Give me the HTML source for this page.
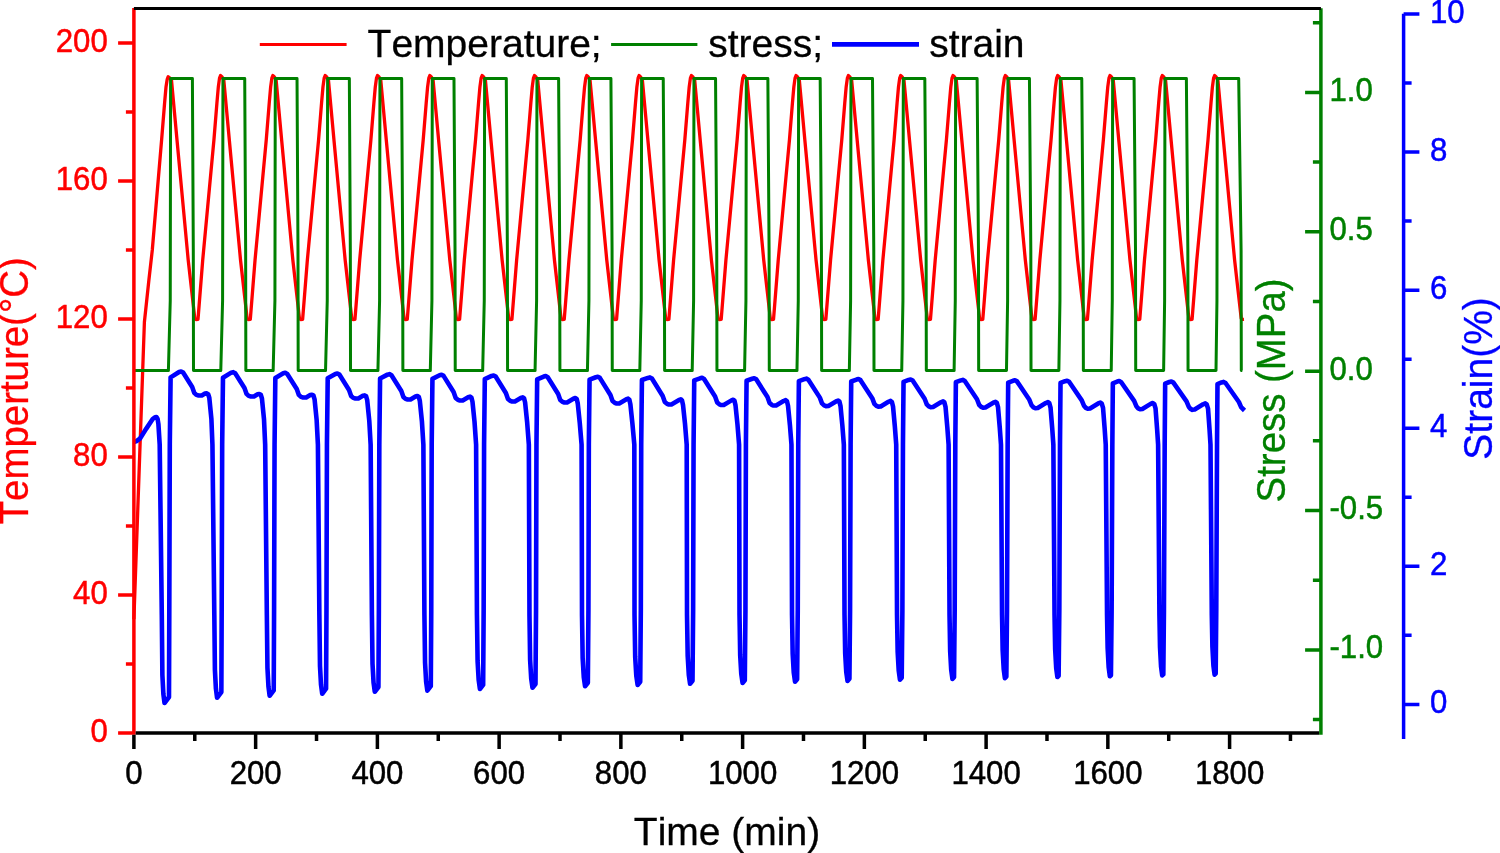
<!DOCTYPE html>
<html lang="en">
<head>
<meta charset="utf-8">
<title>Temperature, stress and strain versus time</title>
<style>
html,body{margin:0;padding:0;background:#ffffff;}
body{width:1500px;height:853px;overflow:hidden;}
svg{display:block;}
</style>
</head>
<body>
<svg width="1500" height="853" viewBox="0 0 1500 853" role="img" aria-label="Temperature, stress and strain versus time">
<rect x="0" y="0" width="1500" height="853" fill="#ffffff"/>
<g fill="none" stroke-linejoin="round" stroke-linecap="butt">
<polyline stroke="#ff0000" stroke-width="3.3" points="133.9,619.22 144.4,322 148.9,280 152.3,250 161.6,140 164.6,103 166,87 167.2,79.3 168.2,76.7 169.8,78.1 171.5,80.2 177,140 188.2,260 194.8,318.4 196,319.5 198,319.3 202.72,260 213.92,140 216.92,103 218.32,87 219.52,78.1 220.52,75.5 222.12,76.9 223.82,80.2 229.32,140 240.52,260 247.12,318.4 248.32,319.5 250.32,319.3 255.04,260 266.24,140 269.24,103 270.64,87 271.84,78.1 272.84,75.5 274.44,76.9 276.14,80.2 281.64,140 292.84,260 299.44,318.4 300.64,319.5 302.64,319.3 307.36,260 318.56,140 321.56,103 322.96,87 324.16,78.1 325.16,75.5 326.76,76.9 328.46,80.2 333.96,140 345.16,260 351.76,318.4 352.96,319.5 354.96,319.3 359.68,260 370.88,140 373.88,103 375.28,87 376.48,78.1 377.48,75.5 379.08,76.9 380.78,80.2 386.28,140 397.48,260 404.08,318.4 405.28,319.5 407.28,319.3 412,260 423.2,140 426.2,103 427.6,87 428.8,78.1 429.8,75.5 431.4,76.9 433.1,80.2 438.6,140 449.8,260 456.4,318.4 457.6,319.5 459.6,319.3 464.32,260 475.52,140 478.52,103 479.92,87 481.12,78.1 482.12,75.5 483.72,76.9 485.42,80.2 490.92,140 502.12,260 508.72,318.4 509.92,319.5 511.92,319.3 516.64,260 527.84,140 530.84,103 532.24,87 533.44,78.1 534.44,75.5 536.04,76.9 537.74,80.2 543.24,140 554.44,260 561.04,318.4 562.24,319.5 564.24,319.3 568.96,260 580.16,140 583.16,103 584.56,87 585.76,78.1 586.76,75.5 588.36,76.9 590.06,80.2 595.56,140 606.76,260 613.36,318.4 614.56,319.5 616.56,319.3 621.28,260 632.48,140 635.48,103 636.88,87 638.08,78.1 639.08,75.5 640.68,76.9 642.38,80.2 647.88,140 659.08,260 665.68,318.4 666.88,319.5 668.88,319.3 673.6,260 684.8,140 687.8,103 689.2,87 690.4,78.1 691.4,75.5 693,76.9 694.7,80.2 700.2,140 711.4,260 718,318.4 719.2,319.5 721.2,319.3 725.92,260 737.12,140 740.12,103 741.52,87 742.72,78.1 743.72,75.5 745.32,76.9 747.02,80.2 752.52,140 763.72,260 770.32,318.4 771.52,319.5 773.52,319.3 778.24,260 789.44,140 792.44,103 793.84,87 795.04,78.1 796.04,75.5 797.64,76.9 799.34,80.2 804.84,140 816.04,260 822.64,318.4 823.84,319.5 825.84,319.3 830.56,260 841.76,140 844.76,103 846.16,87 847.36,78.1 848.36,75.5 849.96,76.9 851.66,80.2 857.16,140 868.36,260 874.96,318.4 876.16,319.5 878.16,319.3 882.88,260 894.08,140 897.08,103 898.48,87 899.68,78.1 900.68,75.5 902.28,76.9 903.98,80.2 909.48,140 920.68,260 927.28,318.4 928.48,319.5 930.48,319.3 935.2,260 946.4,140 949.4,103 950.8,87 952,78.1 953,75.5 954.6,76.9 956.3,80.2 961.8,140 973,260 979.6,318.4 980.8,319.5 982.8,319.3 987.52,260 998.72,140 1001.72,103 1003.12,87 1004.32,78.1 1005.32,75.5 1006.92,76.9 1008.62,80.2 1014.12,140 1025.32,260 1031.92,318.4 1033.12,319.5 1035.12,319.3 1039.84,260 1051.04,140 1054.04,103 1055.44,87 1056.64,78.1 1057.64,75.5 1059.24,76.9 1060.94,80.2 1066.44,140 1077.64,260 1084.24,318.4 1085.44,319.5 1087.44,319.3 1092.16,260 1103.36,140 1106.36,103 1107.76,87 1108.96,78.1 1109.96,75.5 1111.56,76.9 1113.26,80.2 1118.76,140 1129.96,260 1136.56,318.4 1137.76,319.5 1139.76,319.3 1144.48,260 1155.68,140 1158.68,103 1160.08,87 1161.28,78.1 1162.28,75.5 1163.88,76.9 1165.58,80.2 1171.08,140 1182.28,260 1188.88,318.4 1190.08,319.5 1192.08,319.3 1196.8,260 1208,140 1211,103 1212.4,87 1213.6,78.1 1214.6,75.5 1216.2,76.9 1217.9,80.2 1223.4,140 1234.6,260 1241.2,318.4 1242.4,319.4 1244,319.3"/>
<polyline stroke="#008000" stroke-width="3" points="133.9,370.6 168.4,370.6 170.25,300.6 170.6,78.6 192.4,78.6 193.3,250.6 193.5,370.6 220.78,370.6 222.59,300.6 222.94,78.6 244.72,78.6 245.65,250.6 245.84,370.6 273.16,370.6 274.92,300.6 275.27,78.6 297.03,78.6 297.99,250.6 298.19,370.6 325.54,370.6 327.25,300.6 327.61,78.6 349.35,78.6 350.33,250.6 350.53,370.6 377.92,370.6 379.59,300.6 379.94,78.6 401.66,78.6 402.68,250.6 402.88,370.6 430.3,370.6 431.92,300.6 432.27,78.6 453.98,78.6 455.03,250.6 455.23,370.6 482.68,370.6 484.26,300.6 484.61,78.6 506.29,78.6 507.37,250.6 507.57,370.6 535.06,370.6 536.6,300.6 536.95,78.6 558.61,78.6 559.71,250.6 559.91,370.6 587.44,370.6 588.93,300.6 589.28,78.6 610.92,78.6 612.06,250.6 612.26,370.6 639.82,370.6 641.26,300.6 641.62,78.6 663.24,78.6 664.4,250.6 664.61,370.6 692.2,370.6 693.6,300.6 693.95,78.6 715.55,78.6 716.75,250.6 716.95,370.6 744.58,370.6 745.94,300.6 746.29,78.6 767.86,78.6 769.09,250.6 769.29,370.6 796.96,370.6 798.27,300.6 798.62,78.6 820.18,78.6 821.44,250.6 821.64,370.6 849.34,370.6 850.61,300.6 850.96,78.6 872.5,78.6 873.78,250.6 873.99,370.6 901.72,370.6 902.94,300.6 903.29,78.6 924.81,78.6 926.13,250.6 926.33,370.6 954.1,370.6 955.27,300.6 955.62,78.6 977.12,78.6 978.47,250.6 978.67,370.6 1006.48,370.6 1007.61,300.6 1007.96,78.6 1029.44,78.6 1030.82,250.6 1031.02,370.6 1058.86,370.6 1059.95,300.6 1060.3,78.6 1081.76,78.6 1083.16,250.6 1083.37,370.6 1111.24,370.6 1112.28,300.6 1112.63,78.6 1134.07,78.6 1135.51,250.6 1135.71,370.6 1163.62,370.6 1164.62,300.6 1164.96,78.6 1186.38,78.6 1187.85,250.6 1188.05,370.6 1216,370.6 1216.95,300.6 1217.3,78.6 1238.7,78.6 1241.1,250.6 1241.3,370.6 1242.3,370.6"/>
<polyline stroke="#0000ff" stroke-width="4.6" points="133.9,442.2 136.5,441.2 139.9,438.7 146.3,428.6 152.7,419 155,417.2 156.4,417 157.6,419 158.4,424 159.7,444.6 161.8,615 162.38,675 163.37,694 164.5,703 169,697 169.3,610 169.8,444.6 170.6,377.4 179.1,372 181.1,371.5 183.1,372.6 192.2,387 194.3,392.9 196.4,394.9 198.6,395.5 201.8,395.5 205,393.6 206.6,393.4 208.2,394.2 209.3,397.7 211.4,419 212.44,444.6 214.32,615 214.91,669.8 215.92,688.8 217.07,697.8 221.36,692.11 221.69,610 222.18,444.6 222.97,377.69 231.19,372.66 233.19,372.16 235.19,373.26 244.48,388 246.58,393.91 248.69,395.89 250.86,396.5 253.98,396.49 257.62,394.33 259.29,394.06 260.85,394.89 261.94,398.51 264.02,419.56 265.17,444.6 266.85,615 267.45,667.8 268.47,686.8 269.64,695.8 273.72,690.42 274.08,610 274.56,444.6 275.34,377.98 283.28,373.31 285.28,372.81 287.28,373.91 296.76,389 298.86,394.92 300.98,396.88 303.12,397.5 306.16,397.48 310.25,395.07 311.98,394.71 313.49,395.58 314.57,399.32 316.65,420.11 317.91,444.6 319.37,615 319.98,665.8 321.02,684.8 322.21,693.8 326.07,688.73 326.47,610 326.94,444.6 327.71,378.27 335.37,373.97 337.37,373.47 339.37,374.57 349.04,390 351.14,395.93 353.27,397.87 355.37,398.5 358.34,398.47 362.87,395.8 364.67,395.37 366.14,396.27 367.21,400.13 369.27,420.67 370.64,444.6 371.9,615 372.52,663.8 373.57,682.8 374.78,691.8 378.43,687.04 378.86,610 379.32,444.6 380.08,378.56 387.46,374.62 389.46,374.12 391.46,375.22 401.32,391 403.42,396.94 405.56,398.86 407.63,399.5 410.52,399.46 415.5,396.53 417.36,396.02 418.79,396.96 419.84,400.94 421.9,421.22 423.38,444.6 424.42,615 425.05,662.6 426.12,681.6 427.34,690.6 430.79,686.16 431.26,610 431.7,444.6 432.44,378.84 439.56,375.28 441.56,374.78 443.56,375.88 453.6,392 455.7,397.96 457.86,399.84 459.89,400.5 462.7,400.44 468.12,397.27 470.06,396.68 471.43,397.64 472.48,401.76 474.52,421.78 476.11,444.6 476.95,615 477.59,661 478.67,680 479.91,689 483.15,684.87 483.65,610 484.08,444.6 484.81,379.13 491.65,375.93 493.65,375.43 495.65,376.53 505.88,393 507.98,398.97 510.15,400.83 512.15,401.5 514.88,401.43 520.75,398 522.75,397.33 524.08,398.33 525.11,402.57 527.15,422.33 528.85,444.6 529.47,615 530.12,659.8 531.22,678.8 532.48,687.8 535.5,683.98 536.04,610 536.46,444.6 537.18,379.42 543.74,376.59 545.74,376.09 547.74,377.19 558.16,394 560.26,399.98 562.44,401.82 564.4,402.5 567.06,402.42 573.37,398.73 575.44,397.99 576.73,399.02 577.75,403.38 579.77,422.89 581.58,444.6 582,615 582.66,658.2 583.77,677.2 585.05,686.2 587.86,682.69 588.43,610 588.84,444.6 589.55,379.71 595.83,377.24 597.83,376.74 599.83,377.84 610.44,395 612.54,400.99 614.73,402.81 616.66,403.5 619.24,403.41 626,399.47 628.13,398.64 629.37,399.71 630.38,404.19 632.4,423.44 634.32,444.6 634.52,615 635.2,657 636.32,676 637.62,685 640.22,681.8 640.82,610 641.22,444.6 641.92,380 647.92,377.9 649.92,377.4 651.92,378.5 662.72,396 664.82,402 667.02,403.8 668.92,404.5 671.42,404.4 678.62,400.2 680.82,399.3 682.02,400.4 683.02,405 685.02,424 686.7,444.6 687.02,615 687.69,655.8 688.8,674.8 690.09,683.8 692.52,680.84 693.13,610 693.57,444.6 694.24,380.37 700.07,378.31 702.07,377.81 704.07,378.91 715.1,396.54 717.21,402.47 719.38,404.31 721.27,405.03 723.74,404.91 731.07,400.61 733.27,399.71 734.49,400.8 735.52,405.37 737.48,424.63 739.08,444.6 739.52,615 740.18,655 741.28,674 742.56,683 744.82,680.29 745.45,610 745.91,444.6 746.57,380.73 752.21,378.72 754.21,378.22 756.21,379.32 767.48,397.09 769.6,402.93 771.74,404.82 773.61,405.57 776.07,405.42 783.51,401.02 785.71,400.12 786.96,401.2 788.02,405.73 789.94,425.27 791.46,444.6 792.03,615 792.68,653.8 793.77,672.8 795.03,681.8 797.13,679.33 797.76,610 798.26,444.6 798.89,381.1 804.36,379.13 806.36,378.63 808.36,379.73 819.86,397.63 821.99,403.4 824.09,405.33 825.96,406.1 828.39,405.93 835.96,401.43 838.16,400.53 839.43,401.6 840.53,406.1 842.39,425.9 843.84,444.6 844.53,615 845.17,653 846.25,672 847.5,681 849.43,678.78 850.07,610 850.61,444.6 851.22,381.47 856.51,379.54 858.51,379.04 860.51,380.14 872.24,398.18 874.38,403.87 876.45,405.84 878.31,406.63 880.72,406.44 888.41,401.84 890.61,400.94 891.9,402 893.03,406.47 894.85,426.53 896.22,444.6 897.03,615 897.66,651.8 898.73,670.8 899.96,679.8 901.73,677.82 902.39,610 902.95,444.6 903.54,381.83 908.65,379.96 910.65,379.46 912.65,380.56 924.62,398.72 926.78,404.33 928.81,406.36 930.65,407.17 933.04,406.96 940.85,402.26 943.05,401.36 944.36,402.4 945.53,406.83 947.31,427.17 948.6,444.6 949.53,615 950.16,651 951.22,670 952.43,679 954.03,677.27 954.7,610 955.3,444.6 955.87,382.2 960.8,380.37 962.8,379.87 964.8,380.97 977,399.27 979.17,404.8 981.17,406.87 983,407.7 985.37,407.47 993.3,402.67 995.5,401.77 996.83,402.8 998.03,407.2 999.77,427.8 1000.98,444.6 1002.04,615 1002.65,650.2 1003.7,669.2 1004.9,678.2 1006.34,676.71 1007.01,610 1007.65,444.6 1008.19,382.57 1012.95,380.78 1014.95,380.28 1016.95,381.38 1029.38,399.81 1031.56,405.27 1033.52,407.38 1035.35,408.23 1037.69,407.98 1045.75,403.08 1047.95,402.18 1049.3,403.2 1050.54,407.57 1052.22,428.43 1053.36,444.6 1054.54,615 1055.15,649 1056.18,668 1057.37,677 1058.64,675.76 1059.33,610 1059.99,444.6 1060.52,382.93 1065.09,381.19 1067.09,380.69 1069.09,381.79 1081.76,400.36 1083.95,405.73 1085.88,407.89 1087.69,408.77 1090.02,408.49 1098.19,403.49 1100.39,402.59 1101.77,403.6 1103.04,407.93 1104.68,429.07 1105.74,444.6 1107.04,615 1107.64,648.2 1108.66,667.2 1109.84,676.2 1110.94,675.2 1111.64,610 1112.34,444.6 1112.84,383.3 1117.24,381.6 1119.24,381.1 1121.24,382.2 1134.14,400.9 1136.34,406.2 1138.24,408.4 1140.04,409.3 1142.34,409 1150.64,403.9 1152.84,403 1154.24,404 1155.54,408.3 1157.14,429.7 1158.12,444.6 1159.42,615 1160.02,647.4 1161.04,666.4 1162.22,675.4 1163.32,674.4 1163.95,610 1164.69,444.6 1165.16,383.67 1169.39,382.01 1171.39,381.51 1173.39,382.61 1186.52,401.44 1188.73,406.67 1190.6,408.91 1192.39,409.83 1194.66,409.51 1203.09,404.31 1205.29,403.41 1206.71,404.4 1208.04,408.67 1209.6,430.33 1210.5,444.6 1211.8,615 1212.4,646.6 1213.42,665.6 1214.6,674.6 1215.7,673.6 1216.27,610 1217.03,444.6 1217.49,384.03 1221.53,382.42 1223.53,381.92 1225.53,383.02 1238.9,401.99 1241.12,407.13 1244.5,410.5"/>
</g>
<g fill="none" stroke-width="3.5" stroke-linecap="butt">
<path stroke="#ff0000" d="M133.9 8V734.85M133.9 733.1h-15.8M133.9 664.08h-8M133.9 595.06h-15.8M133.9 526.04h-8M133.9 457.02h-15.8M133.9 388h-8M133.9 318.99h-15.8M133.9 249.97h-8M133.9 180.95h-15.8M133.9 111.93h-8M133.9 42.91h-15.8"/>
<path stroke="#008000" d="M1320.9 8.2V734.85M1320.9 719.56h-8M1320.9 649.88h-15.8M1320.9 580.2h-8M1320.9 510.52h-15.8M1320.9 440.83h-8M1320.9 371.15h-15.8M1320.9 301.47h-8M1320.9 231.78h-15.8M1320.9 162.1h-8M1320.9 92.42h-15.8M1320.9 22.74h-8"/>
<path stroke="#000000" stroke-width="3" d="M133.9 8.4H1320.9"/>
<path stroke="#000000" d="M135.65 733.1H1319.15M133.9 734.85v14.05M194.77 733.1v8M255.64 733.1v15.8M316.52 733.1v8M377.39 733.1v15.8M438.26 733.1v8M499.13 733.1v15.8M560 733.1v8M620.87 733.1v15.8M681.75 733.1v8M742.62 733.1v15.8M803.49 733.1v8M864.36 733.1v15.8M925.23 733.1v8M986.11 733.1v15.8M1046.98 733.1v8M1107.85 733.1v15.8M1168.72 733.1v8M1229.59 733.1v15.8M1290.46 733.1v8"/>
<path stroke="#0000ff" d="M1403.6 13.8V738.9M1403.6 704.38h15.8M1403.6 635.34h8M1403.6 566.3h15.8M1403.6 497.27h8M1403.6 428.23h15.8M1403.6 359.19h8M1403.6 290.15h15.8M1403.6 221.11h8M1403.6 152.08h15.8M1403.6 83.04h8M1403.6 14h15.8"/>
</g>
<g fill="none">
<path stroke="#ff0000" stroke-width="3" d="M259.8 44.5H346.6"/>
<path stroke="#008000" stroke-width="3" d="M611.1 44.5H697.4"/>
<path stroke="#0000ff" stroke-width="4.7" d="M832 44.4H919"/>
</g>
<g font-family="'Liberation Sans', sans-serif" font-size="39" fill="#000000" stroke="#000000" stroke-width="0.3" style="font-kerning:none">
<text x="367.6" y="57">Temperature;</text>
<text x="708.2" y="57">stress;</text>
<text x="929.2" y="57">strain</text>
<text x="727" y="845" text-anchor="middle">Time (min)</text>
</g>
<g font-family="'Liberation Sans', sans-serif" font-size="39" style="font-kerning:none">
<text transform="translate(28.2 390.8) rotate(-90) scale(0.985 1.05)" text-anchor="middle" fill="#ff0000" stroke="#ff0000" stroke-width="0.3">Temperture(°C)</text>
<text transform="translate(1285.4 390.4) rotate(-90) scale(0.985 1.06)" text-anchor="middle" fill="#008000" stroke="#008000" stroke-width="0.3">Stress (MPa)</text>
<text transform="translate(1492.2 378.4) rotate(-90) scale(1 1.06)" text-anchor="middle" fill="#0000ff" stroke="#0000ff" stroke-width="0.3">Strain(%)</text>
</g>
<g font-family="'Liberation Sans', sans-serif" font-size="32.5" style="font-kerning:none">
<g fill="#000000" stroke="#000000" stroke-width="0.5" text-anchor="middle">
<text transform="translate(133.9 784.1) scale(0.96 1)">0</text>
<text transform="translate(255.64 784.1) scale(0.96 1)">200</text>
<text transform="translate(377.39 784.1) scale(0.96 1)">400</text>
<text transform="translate(499.13 784.1) scale(0.96 1)">600</text>
<text transform="translate(620.87 784.1) scale(0.96 1)">800</text>
<text transform="translate(742.62 784.1) scale(0.96 1)">1000</text>
<text transform="translate(864.36 784.1) scale(0.96 1)">1200</text>
<text transform="translate(986.11 784.1) scale(0.96 1)">1400</text>
<text transform="translate(1107.85 784.1) scale(0.96 1)">1600</text>
<text transform="translate(1229.59 784.1) scale(0.96 1)">1800</text>
</g>
<g fill="#ff0000" stroke="#ff0000" stroke-width="0.5" text-anchor="end">
<text transform="translate(107.8 742.1) scale(0.96 1)">0</text>
<text transform="translate(107.8 604.06) scale(0.96 1)">40</text>
<text transform="translate(107.8 466.02) scale(0.96 1)">80</text>
<text transform="translate(107.8 327.99) scale(0.96 1)">120</text>
<text transform="translate(107.8 189.95) scale(0.96 1)">160</text>
<text transform="translate(107.8 51.91) scale(0.96 1)">200</text>
</g>
<g fill="#008000" stroke="#008000" stroke-width="0.5" text-anchor="start">
<text transform="translate(1329.4 658.48) scale(0.96 1)">-1.0</text>
<text transform="translate(1329.4 519.12) scale(0.96 1)">-0.5</text>
<text transform="translate(1329.4 379.75) scale(0.96 1)">0.0</text>
<text transform="translate(1329.4 240.38) scale(0.96 1)">0.5</text>
<text transform="translate(1329.4 101.02) scale(0.96 1)">1.0</text>
</g>
<g fill="#0000ff" stroke="#0000ff" stroke-width="0.5" text-anchor="start">
<text transform="translate(1430 713.38) scale(0.96 1)">0</text>
<text transform="translate(1430 575.3) scale(0.96 1)">2</text>
<text transform="translate(1430 437.23) scale(0.96 1)">4</text>
<text transform="translate(1430 299.15) scale(0.96 1)">6</text>
<text transform="translate(1430 161.08) scale(0.96 1)">8</text>
<text transform="translate(1430 23) scale(0.96 1)">10</text>
</g>
</g>
</svg>
</body>
</html>
